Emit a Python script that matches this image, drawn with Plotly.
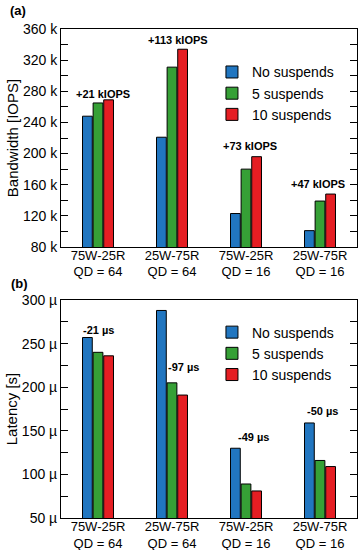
import plotly.graph_objects as go

categories = ["75W-25R<br>QD = 64", "25W-75R<br>QD = 64", "75W-25R<br>QD = 16", "25W-75R<br>QD = 16"]
series_names = ["No suspends", "5 suspends", "10 suspends"]

bw_none = [248, 221, 123, 101]
bw_5 = [265, 311, 180, 139]
bw_10 = [269, 334, 196, 148]

lat_none = [257, 288, 130, 159]
lat_5 = [240, 205, 89, 116]
lat_10 = [236, 191, 81, 109]

bw_labels = ["+21 kIOPS", "+113 kIOPS", "+73 kIOPS", "+47 kIOPS"]
lat_labels = ["-21 µs", "-97 µs", "-49 µs", "-50 µs"]

bw_tickvals = list(range(80, 361, 20))
bw_ticktext = [f"{v} k" if (v - 80) % 40 == 0 else "" for v in bw_tickvals]
lat_tickvals = list(range(50, 301, 25))
lat_ticktext = [f"{v} µ" if (v - 50) % 50 == 0 else "" for v in lat_tickvals]

colors = ["#2176c0", "#36a036", "#e51e23"]
FONT = "Liberation Sans, Arial, Helvetica, sans-serif"

fig = go.Figure()
for name, vals, c in zip(series_names, [bw_none, bw_5, bw_10], colors):
    fig.add_trace(go.Bar(x=categories, y=vals, name=name, marker=dict(color=c, line=dict(color="black", width=1)),
                         xaxis="x", yaxis="y", legend="legend", offsetgroup=name))
for name, vals, c in zip(series_names, [lat_none, lat_5, lat_10], colors):
    fig.add_trace(go.Bar(x=categories, y=vals, name=name, marker=dict(color=c, line=dict(color="black", width=1)),
                         xaxis="x2", yaxis="y2", legend="legend2", offsetgroup=name))

axis_common = dict(showline=True, linecolor="black", linewidth=1, mirror="ticks", showgrid=False,
                   zeroline=False, automargin=False)
ytickfont = dict(family=FONT, size=14, color="black")
xtickfont = dict(family=FONT, size=13, color="black")

fig.update_layout(
    width=362, height=550,
    margin=dict(l=61, r=5, t=29, b=32, autoexpand=False),
    plot_bgcolor="white", paper_bgcolor="white",
    font=dict(family=FONT, color="black"),
    barmode="group", bargap=0.57, bargroupgap=0.08,
    xaxis=dict(domain=[0, 1], anchor="y", ticks="", ticklabelstandoff=-4, tickfont=xtickfont, **axis_common),
    yaxis=dict(domain=[0.5542, 1.0], anchor="x", range=[80, 360], tickvals=bw_tickvals, ticktext=bw_ticktext,
               ticks="inside", ticklen=7, tickcolor="black", tickfont=ytickfont,
               title=dict(text="Bandwidth [IOPS]", font=dict(family=FONT, size=15), standoff=0), **axis_common),
    xaxis2=dict(domain=[0, 1], anchor="y2", ticks="", ticklabelstandoff=-4, tickfont=xtickfont, **axis_common),
    yaxis2=dict(domain=[0.0, 0.4458], anchor="x2", range=[50, 300], tickvals=lat_tickvals, ticktext=lat_ticktext,
                ticks="inside", ticklen=7, tickcolor="black", tickfont=ytickfont,
                title=dict(text="Latency [s]", font=dict(family=FONT, size=15), standoff=0), **axis_common),
    legend=dict(x=0.51, y=0.944, xanchor="left", yanchor="top", bgcolor="rgba(0,0,0,0)",
                font=dict(family=FONT, size=14), tracegroupgap=0),
    legend2=dict(x=0.51, y=0.412, xanchor="left", yanchor="top", bgcolor="rgba(0,0,0,0)",
                 font=dict(family=FONT, size=14), tracegroupgap=0),
)

bw_xshift = [5, 6, 4, -2]
bw_yshift = [-2, 1, 3, 2]
for i, (cat, lab) in enumerate(zip(categories, bw_labels)):
    top = max(bw_none[i], bw_5[i], bw_10[i])
    fig.add_annotation(x=cat, y=top, xref="x", yref="y", text=f"<b>{lab}</b>", showarrow=False,
                       yanchor="bottom", xshift=bw_xshift[i], yshift=bw_yshift[i],
                       font=dict(family=FONT, size=11, color="black"))

lat_anchor = [lat_none[0], lat_5[1], lat_none[2], lat_none[3]]
lat_xshift = [0, 11, 7, 2]
lat_yshift = [0, 8, 3, 4]
for i, (cat, lab) in enumerate(zip(categories, lat_labels)):
    fig.add_annotation(x=cat, y=lat_anchor[i], xref="x2", yref="y2", text=f"<b>{lab}</b>", showarrow=False,
                       yanchor="bottom", xshift=lat_xshift[i], yshift=lat_yshift[i],
                       font=dict(family=FONT, size=11, color="black"))

fig.add_annotation(x=-0.18, y=1.018, xref="paper", yref="paper", text="<b>(a)</b>", showarrow=False,
                   xanchor="left", yanchor="bottom", font=dict(family=FONT, size=13, color="black"))
fig.add_annotation(x=-0.175, y=0.460, xref="paper", yref="paper", text="<b>(b)</b>", showarrow=False,
                   xanchor="left", yanchor="bottom", font=dict(family=FONT, size=13, color="black"))

fig.write_html("out.html", config={"displayModeBar": False},
               post_script="document.body.style.margin='0';document.body.style.overflow='hidden';")
